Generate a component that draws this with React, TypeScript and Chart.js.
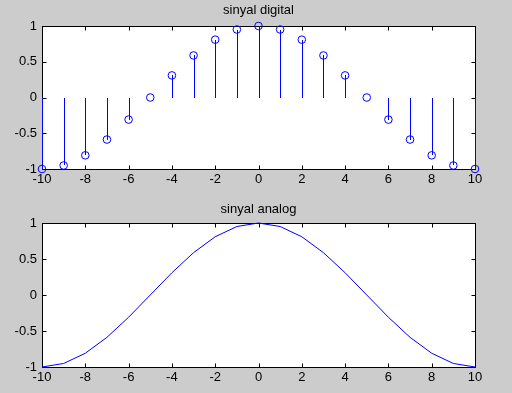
import React, { useEffect, useRef } from "react";
import { Chart, registerables } from "chart.js";

Chart.register(...registerables);

// Discrete signal (stem plot)
const digitalN = [-10, -9, -8, -7, -6, -5, -4, -3, -2, -1, 0, 1, 2, 3, 4, 5, 6, 7, 8, 9, 10];
const digitalValues = [-1, -0.951, -0.809, -0.588, -0.309, 0, 0.309, 0.588, 0.809, 0.951, 1, 0.951, 0.809, 0.588, 0.309, 0, -0.309, -0.588, -0.809, -0.951, -1];

// Continuous signal (line)
const analogT = [-10, -9, -8, -7, -6, -5, -4, -3, -2, -1, 0, 1, 2, 3, 4, 5, 6, 7, 8, 9, 10];
const analogValues = [-1, -0.951, -0.809, -0.588, -0.309, 0, 0.309, 0.588, 0.809, 0.951, 1, 0.951, 0.809, 0.588, 0.309, 0, -0.309, -0.588, -0.809, -0.951, -1];

const xTicks = [-10, -8, -6, -4, -2, 0, 2, 4, 6, 8, 10];
const yTicks = [-1, -0.5, 0, 0.5, 1];
const titles = ["sinyal digital", "sinyal analog"];

const BLUE = "#0000ff";
const FONT = "'Liberation Sans', Arial, sans-serif";

const framePlugin = {
  id: "matlabFrame",
  beforeDraw(chart: any) {
    const { ctx, chartArea: a } = chart;
    ctx.save();
    ctx.fillStyle = "#ffffff";
    ctx.fillRect(a.left, a.top, a.right - a.left, a.bottom - a.top);
    ctx.restore();
  },
  beforeDatasetsDraw(chart: any) {
    const { ctx, chartArea: a } = chart;
    const xs = chart.scales.x;
    const ys = chart.scales.y;
    const L = Math.round(a.left) + 0.5;
    const R = Math.round(a.right) + 0.5;
    const T = Math.round(a.top) + 0.5;
    const B = Math.round(a.bottom) + 0.5;
    const len = 4;
    ctx.save();
    ctx.strokeStyle = "#000";
    ctx.lineWidth = 1;
    ctx.beginPath();
    for (const v of xTicks) {
      const px = Math.round(xs.getPixelForValue(v)) + 0.5;
      ctx.moveTo(px, B);
      ctx.lineTo(px, B - len);
      ctx.moveTo(px, T);
      ctx.lineTo(px, T + len);
    }
    for (const v of yTicks) {
      const py = Math.round(ys.getPixelForValue(v)) + 0.5;
      ctx.moveTo(L, py);
      ctx.lineTo(L + len, py);
      ctx.moveTo(R, py);
      ctx.lineTo(R - len, py);
    }
    ctx.stroke();
    ctx.strokeRect(L, T, R - L, B - T);

    // Stems: from the baseline (value 0) to each marker, using the
    // positions the library computed for the scatter points.
    chart.data.datasets.forEach((ds: any, di: number) => {
      if (!ds.stems) return;
      const meta = chart.getDatasetMeta(di);
      const y0 = ys.getPixelForValue(0);
      ctx.strokeStyle = BLUE;
      ctx.beginPath();
      meta.data.forEach((el: any) => {
        const px = Math.round(el.x) + 0.5;
        ctx.moveTo(px, Math.round(y0));
        ctx.lineTo(px, Math.round(el.y));
      });
      ctx.stroke();
    });
    ctx.restore();
  },
};

function makeScales(xHeight: number) {
  return {
    x: {
      type: "linear" as const,
      min: -10,
      max: 10,
      offset: false,
      grid: { display: false, drawTicks: false, offset: false },
      border: { display: false },
      afterBuildTicks: (s: any) => {
        s.ticks = xTicks.map((v) => ({ value: v }));
      },
      afterFit: (s: any) => {
        s.height = xHeight;
      },
      ticks: {
        color: "#000",
        padding: 3,
        font: { family: FONT, size: 13 },
        maxRotation: 0,
        autoSkip: false,
        callback: (v: any) => String(v),
      },
    },
    y: {
      type: "linear" as const,
      min: -1,
      max: 1,
      grid: { display: false, drawTicks: false },
      border: { display: false },
      afterBuildTicks: (s: any) => {
        s.ticks = yTicks.map((v) => ({ value: v }));
      },
      afterFit: (s: any) => {
        s.width = 42;
      },
      ticks: {
        color: "#000",
        padding: 5,
        font: { family: FONT, size: 13 },
        callback: (v: any) => String(v),
      },
    },
  };
}

function ChartBox({ kind, height, top }: { kind: "digital" | "analog"; height: number; top: number }) {
  const ref = useRef<HTMLCanvasElement | null>(null);
  useEffect(() => {
    if (!ref.current) return;
    let datasets: any[];
    let xHeight: number;
    let titlePad: any;
    let title: string;
    if (kind === "digital") {
      xHeight = height - 169;
      titlePad = { top: 2.5, bottom: 7.9 };
      title = titles[0];
      datasets = [
        {
          type: "scatter",
          stems: true,
          data: digitalN.map((n, i) => ({ x: n, y: digitalValues[i] })),
          pointStyle: "circle",
          pointRadius: 3.8,
          pointBorderColor: BLUE,
          pointBackgroundColor: "rgba(0,0,0,0)",
          pointBorderWidth: 1,
          clip: false,
        },
      ];
    } else {
      xHeight = height - 171;
      titlePad = { top: 6, bottom: 5.4 };
      title = titles[1];
      datasets = [
        {
          type: "line",
          data: analogT.map((t, i) => ({ x: t, y: analogValues[i] })),
          borderColor: BLUE,
          borderWidth: 1,
          pointRadius: 0,
          tension: 0,
          fill: false,
          clip: false,
        },
      ];
    }
    const chart = new Chart(ref.current, {
      type: "scatter",
      data: { datasets },
      options: {
        responsive: false,
        animation: false,
        devicePixelRatio: 1,
        layout: { padding: { left: 0, right: 37, top: 0, bottom: 0 } },
        plugins: {
          legend: { display: false },
          tooltip: { enabled: false },
          title: {
            display: true,
            fullSize: false,
            text: title,
            color: "#000",
            font: { family: FONT, size: 13, weight: "normal", lineHeight: 1.2 },
            padding: titlePad,
          },
        },
        scales: makeScales(xHeight) as any,
      },
      plugins: [framePlugin],
    } as any);
    return () => chart.destroy();
  }, [kind, height]);
  return (
    <canvas
      ref={ref}
      width={512}
      height={height}
      style={{ position: "absolute", left: 0, top, width: 512, height }}
    />
  );
}

export default function App() {
  return (
    <div
      style={{
        position: "fixed",
        left: 0,
        top: 0,
        width: 512,
        height: 393,
        background: "#cccccc",
        overflow: "hidden",
      }}
    >
      <ChartBox kind="digital" height={196} top={0} />
      <ChartBox kind="analog" height={197} top={196} />
    </div>
  );
}
